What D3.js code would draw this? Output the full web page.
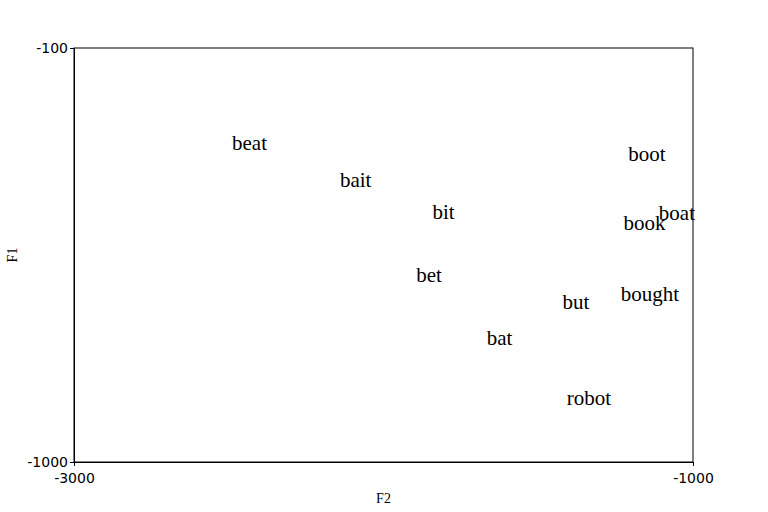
<!DOCTYPE html>
<html>
<head>
<meta charset="utf-8">
<script src="https://cdn.jsdelivr.net/npm/d3@7"></script>
<style>
  body { margin: 0; background: #fff; }
  .tick text { font-family: "DejaVu Sans", sans-serif; font-size: 14px; fill: #000; }
  .word { font-family: "Liberation Serif", "Times New Roman", serif; font-size: 21px; fill: #000; }
  .title { font-family: "Liberation Serif", "Times New Roman", serif; font-size: 14px; fill: #000; }
</style>
</head>
<body>
<script>
// vowel words
var words = ["beat", "bait", "bit", "bet", "bat", "but", "robot", "boot", "book", "boat", "bought"];
var f2 = [-2433, -2090, -1806, -1853, -1625, -1378, -1336, -1149, -1157, -1052, -1139];
var f1 = [-307, -389, -459, -596, -733, -654, -863, -333, -483, -461, -637];

var xTicks = [-3000, -1000];
var yTicks = [-100, -1000];

var margin = {top: 48, right: 75, bottom: 50, left: 74},
    width = 768 - margin.left - margin.right,
    height = 512 - margin.top - margin.bottom;

var x = d3.scaleLinear().domain([-3000, -1000]).range([0, width]);
var y = d3.scaleLinear().domain([-1000, -100]).range([height, 0]);

var svg = d3.select("body").append("svg")
    .attr("width", 768)
    .attr("height", 512)
  .append("g")
    .attr("transform", "translate(" + margin.left + "," + margin.top + ")");

// frame
svg.append("rect")
  .attr("x", 0).attr("y", 0)
  .attr("width", width).attr("height", height)
  .attr("fill", "none")
  .attr("stroke", "#000")
  .attr("stroke-width", 1);

var xAxis = svg.append("g")
    .attr("transform", "translate(0," + height + ")")
    .call(d3.axisBottom(x).tickValues(xTicks).tickSize(4).tickPadding(7).tickFormat(d3.format("d")));

var yAxis = svg.append("g")
    .call(d3.axisLeft(y).tickValues(yTicks).tickSize(4).tickPadding(2).tickFormat(d3.format("d")));

svg.selectAll(".domain").attr("stroke", "#000");
svg.selectAll(".tick line").attr("stroke", "#000");
svg.selectAll(".tick text").text(function(d) { return String(d).replace("\u2212", "-"); });

svg.selectAll(".word")
  .data(words)
  .enter().append("text")
  .attr("class", "word")
  .attr("x", function(d, i) { return x(f2[i]); })
  .attr("y", function(d, i) { return y(f1[i]); })
  .attr("dy", "0.3em")
  .attr("text-anchor", "middle")
  .text(function(d) { return d; });

svg.append("text")
  .attr("class", "title")
  .attr("x", width / 2)
  .attr("y", height + 41)
  .attr("text-anchor", "middle")
  .text("F2");

svg.append("text")
  .attr("class", "title")
  .attr("transform", "translate(" + (-57) + "," + (height / 2) + ") rotate(-90)")
  .attr("text-anchor", "middle")
  .text("F1");
</script>
</body>
</html>
